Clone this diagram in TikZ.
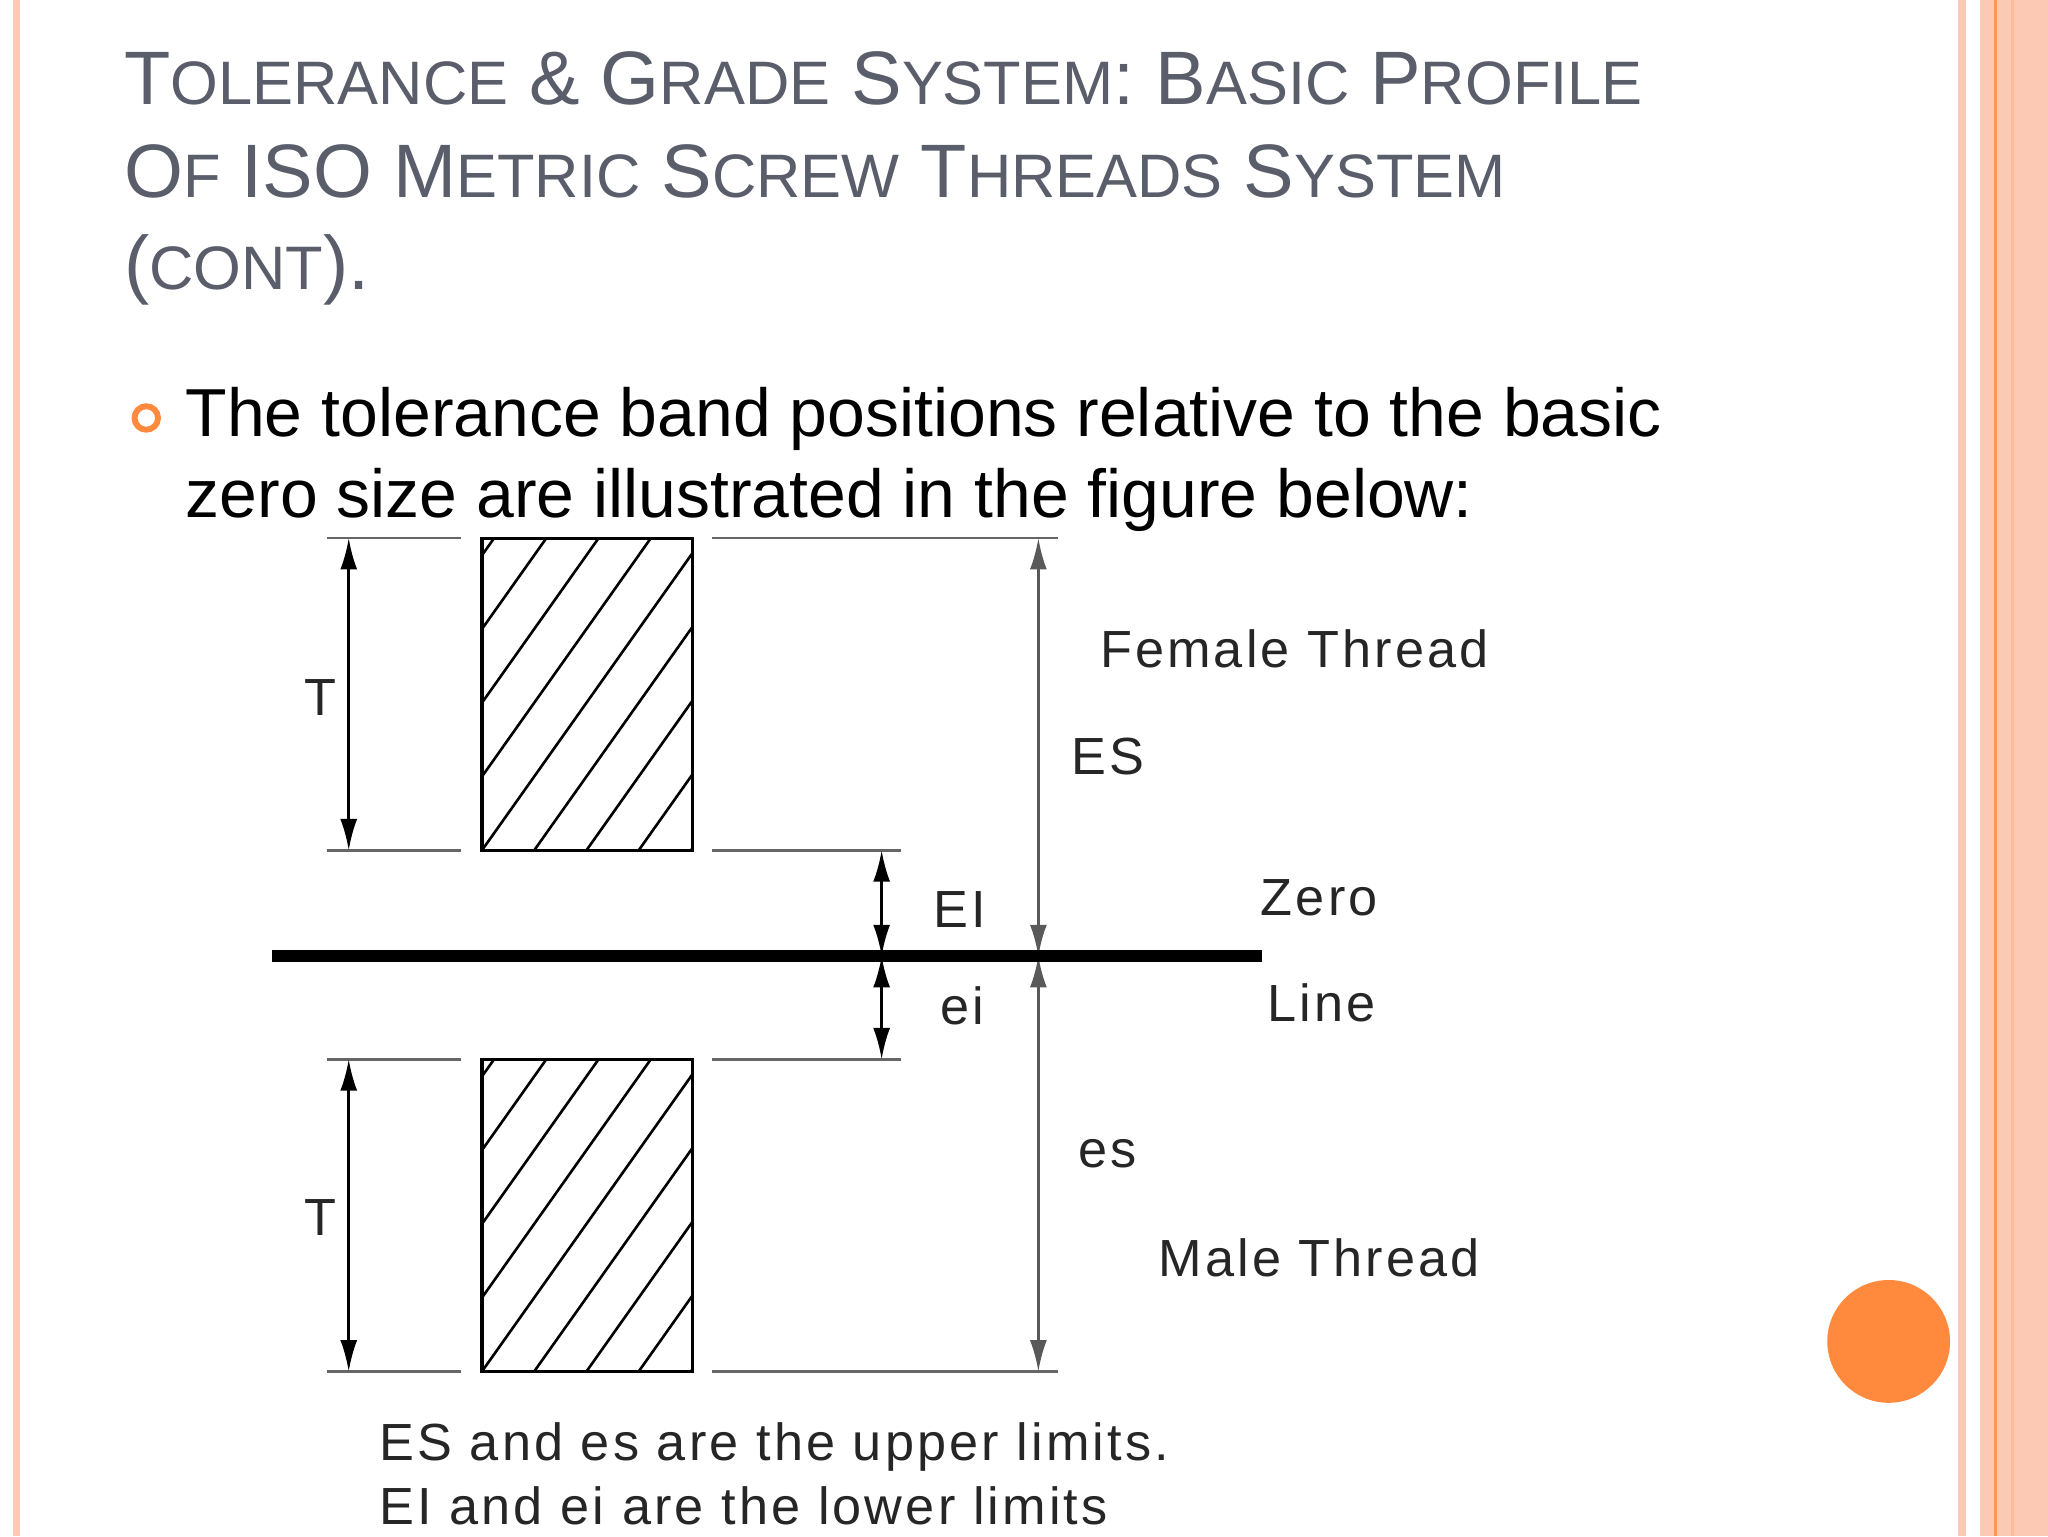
\documentclass[tikz,border=0pt]{standalone}
\usepackage{fontspec}
\setmainfont{Liberation Sans}
\usetikzlibrary{arrows.meta}
\definecolor{titlegray}{HTML}{5A5E6B}
\definecolor{pinkband}{HTML}{FBC9B4}
\definecolor{orng}{HTML}{FF8A3D}
\newcommand{\bigc}[1]{{\fontsize{58}{60}\selectfont #1}}
\newcommand{\smc}[1]{{\fontsize{47}{48}\selectfont #1}}
\tikzset{
  dim/.style={line width=2pt,{Latex[length=24pt,width=13pt]}-{Latex[length=24pt,width=13pt]}},
  ext/.style={line width=2pt,gray!80!black},
  lbl/.style={font=\fontsize{40}{42}\selectfont\addfontfeature{LetterSpace=6},text=black!85,anchor=base},
  hatchbox/.style={line width=2.4pt},
  ttl/.style={anchor=base west,text=titlegray,inner sep=0,font=\fontsize{58}{60}\selectfont}
}
\begin{document}
\begin{tikzpicture}[x=1pt,y=-1pt]
\useasboundingbox (0,0) rectangle (1568,1176);
\fill[white] (0,0) rectangle (1568,1176);
% borders
\fill[pinkband] (10,0) rectangle (15,1176);
\fill[pinkband] (1499,0) rectangle (1505,1176);
\fill[pinkband] (1516,0) rectangle (1568,1176);
\fill[orng!80!pinkband] (1527,0) rectangle (1529,1176);
\fill[pinkband!80!orng] (1540,0) rectangle (1542,1176);
% title
\node[ttl] (t1) at (95,80) {\bigc{T}\smc{OLERANCE} \bigc{\&} \bigc{G}\smc{RADE} \bigc{S}\smc{YSTEM}\bigc{:} \bigc{B}\smc{ASIC} \bigc{P}\smc{ROFILE}};
\node[ttl] (t2) at (95,151) {\bigc{O}\smc{F} \bigc{ISO} \bigc{M}\smc{ETRIC} \bigc{S}\smc{CREW} \bigc{T}\smc{HREADS} \bigc{S}\smc{YSTEM}};
\node[ttl] (t3) at (95,222) {\bigc{(}\smc{CONT}\bigc{).}};
% bullet
\draw[orng,line width=4.5pt] (112,320) circle (9);
\node[anchor=base west,inner sep=0,font=\fontsize{52}{62}\selectfont] (b1) at (142,334) {The tolerance band positions relative to the basic};
\node[anchor=base west,inner sep=0,font=\fontsize{52}{62}\selectfont] (b2) at (142,396) {zero size are illustrated in the figure below:};
% hatched boxes
\foreach \ya/\yb in {412/651, 811/1050}{
  \begin{scope}
    \clip (369,\ya) rectangle (530,\yb);
    \foreach \k in {-12,...,14}{
      \draw[line width=2pt] (369+\k*40,\yb) -- ++(170,-240);
    }
  \end{scope}
  \draw[hatchbox] (369,\ya) rectangle (530,\yb);
}
% extension lines
\foreach \y in {412,651,811,1050}{\draw[ext] (250,\y) -- (353,\y);}
\draw[ext] (545,412) -- (810,412);
\draw[ext] (545,651) -- (690,651);
\draw[ext] (545,811) -- (690,811);
\draw[ext] (545,1050) -- (810,1050);
% coordinates
\coordinate (Ttop1) at (267,412); \coordinate (Tbot1) at (267,651);
\coordinate (Ttop2) at (267,811); \coordinate (Tbot2) at (267,1050);
\coordinate (EIt) at (675,651); \coordinate (EIz) at (675,732); \coordinate (EIb) at (675,811);
\coordinate (Rt) at (795,412); \coordinate (Rz) at (795,732); \coordinate (Rb) at (795,1050);
\draw[dim] (Ttop1) -- (Tbot1);
\draw[dim] (Ttop2) -- (Tbot2);
\draw[dim] (EIt) -- (EIz);
\draw[dim] (EIz) -- (EIb);
\draw[dim,draw=gray!70!black,fill=black] (Rt) -- (Rz);
\draw[dim,draw=gray!70!black,fill=black] (Rz) -- (Rb);
% zero line
\coordinate (z0) at (208,732); \coordinate (z1) at (966,732);
\draw[line width=9pt] (z0) -- (z1);
% labels
\node[lbl] (lT1) at (245,548) {T};
\node[lbl] (lT2) at (245,946) {T};
\node[lbl] (lEI) at (735,710) {EI};
\node[lbl] (lei) at (737,784) {ei};
\node[lbl] (lES) at (848,593) {ES};
\node[lbl] (les) at (848,894) {es};
\node[lbl] (lFT) at (991,511) {Female Thread};
\node[lbl] (lZ) at (1010,701) {Zero};
\node[lbl] (lL) at (1012,782) {Line};
\node[lbl] (lMT) at (1010,977) {Male Thread};
\node[lbl,anchor=base west] (n1) at (287,1118) {ES and es are the upper limits.};
\node[lbl,anchor=base west] (n2) at (287,1167) {EI and ei are the lower limits};
% orange dot
\fill[orng] (1446,1027) circle (47);
\end{tikzpicture}
\end{document}
